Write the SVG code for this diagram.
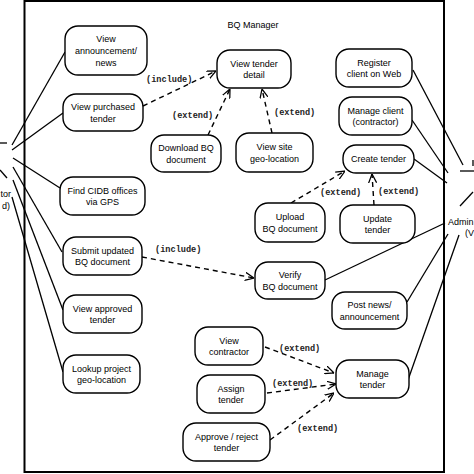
<svg xmlns="http://www.w3.org/2000/svg" width="474" height="474" viewBox="0 0 474 474">
<defs>
<style>
.uc rect{fill:#fff;stroke:#000;stroke-width:1.4}
.uc text,.t{font-family:"Liberation Sans",Arial,sans-serif;font-size:9px;fill:#000;text-anchor:middle}
.s{stroke:#000;stroke-width:1.3;fill:none}
.d{stroke:#000;stroke-width:1.4;fill:none;stroke-dasharray:5 4;marker-end:url(#arr)}
.lb{font-family:"Liberation Mono","Courier New",monospace;font-size:8.6px;font-weight:bold;fill:#222}
.a{font-family:"Liberation Sans",Arial,sans-serif;font-size:9px;fill:#000}
</style>
<marker id="arr" viewBox="0 0 10 10" refX="10" refY="5" markerWidth="9" markerHeight="9" markerUnits="userSpaceOnUse" orient="auto">
<path d="M0,0.5 L10,5 L0,9.5" fill="none" stroke="#000" stroke-width="1.4"/>
</marker>
</defs>
<rect width="474" height="474" fill="#fff"/>
<g id="system">
<rect x="24.5" y="1" width="419.5" height="471" fill="none" stroke="#000" stroke-width="2"/>
<text class="t" x="253" y="28">BQ Manager</text>
</g>
<g id="actor-left">
<line class="s" x1="0" y1="143" x2="7" y2="143"/>
<line class="s" x1="0" y1="170" x2="7" y2="178"/>
<text class="a" x="11" y="197" text-anchor="end">tor</text>
<text class="a" x="10" y="209" text-anchor="end">d)</text>
</g>
<g id="actor-right">
<line class="s" x1="460" y1="171" x2="474" y2="171" stroke-width="1.6"/>
<line class="s" x1="473" y1="160" x2="473" y2="166" stroke-width="2"/>
<line class="s" x1="460" y1="206" x2="473" y2="192"/>
<text class="a" x="448" y="225">Admin</text>
<text class="a" x="465" y="236">(V</text>
</g>
<g id="connectors">
<line class="s" x1="12" y1="145" x2="65" y2="52"/>
<line class="s" x1="12" y1="150" x2="63" y2="113"/>
<line class="s" x1="13" y1="158" x2="60" y2="188"/>
<line class="s" x1="13" y1="167" x2="62" y2="252"/>
<line class="s" x1="13" y1="180" x2="63" y2="310"/>
<line class="s" x1="12" y1="197" x2="63" y2="372"/>
<line class="s" x1="413" y1="70" x2="463" y2="165"/>
<line class="s" x1="412" y1="120" x2="448" y2="173"/>
<line class="s" x1="414" y1="159" x2="447" y2="183"/>
<line class="s" x1="325" y1="280" x2="445" y2="223"/>
<line class="s" x1="407" y1="302" x2="448" y2="234"/>
<line class="s" x1="408" y1="380" x2="459" y2="235"/>
<line class="d" x1="143" y1="106" x2="216" y2="71"/>
<line class="d" x1="208" y1="135" x2="230" y2="89"/>
<line class="d" x1="272" y1="133" x2="262" y2="89"/>
<line class="d" x1="291" y1="203" x2="345" y2="171"/>
<line class="d" x1="374" y1="205" x2="372" y2="174"/>
<line class="d" x1="142" y1="257" x2="254" y2="278"/>
<line class="d" x1="265" y1="347" x2="334" y2="373"/>
<line class="d" x1="267" y1="393" x2="336" y2="384"/>
<line class="d" x1="270" y1="440" x2="334" y2="393"/>
<text class="lb" x="146" y="82">(include)</text>
<text class="lb" x="172" y="118">(extend)</text>
<text class="lb" x="274" y="115">(extend)</text>
<text class="lb" x="320" y="195">(extend)</text>
<text class="lb" x="378" y="194">(extend)</text>
<text class="lb" x="155" y="252">(include)</text>
<text class="lb" x="279" y="351">(extend)</text>
<text class="lb" x="272" y="386">(extend)</text>
<text class="lb" x="297" y="431">(extend)</text>
</g>
<g id="view-announcement" class="uc"><rect x="65" y="26" width="82" height="49" rx="13"/><text x="106" y="42">View</text><text x="106" y="54">announcement/</text><text x="106" y="65.5">news</text></g>
<g id="view-purchased" class="uc"><rect x="63" y="94" width="80" height="37" rx="13"/><text x="103" y="110">View purchased</text><text x="103" y="121.5">tender</text></g>
<g id="view-tender-detail" class="uc"><rect x="217" y="50" width="74" height="38" rx="13"/><text x="254" y="66.5">View tender</text><text x="254" y="78">detail</text></g>
<g id="download-bq" class="uc"><rect x="151" y="135" width="70" height="37" rx="13"/><text x="186" y="151">Download BQ</text><text x="186" y="162.5">document</text></g>
<g id="view-site" class="uc"><rect x="236" y="133" width="77" height="39" rx="13"/><text x="274.5" y="150">View site</text><text x="274.5" y="161.5">geo-location</text></g>
<g id="register-client" class="uc"><rect x="336" y="49" width="76" height="38" rx="13"/><text x="374" y="65.5">Register</text><text x="374" y="77">client on Web</text></g>
<g id="manage-client" class="uc"><rect x="339" y="97" width="73" height="38" rx="13"/><text x="375.5" y="113.5">Manage client</text><text x="375.5" y="125">(contractor)</text></g>
<g id="create-tender" class="uc"><rect x="343" y="145" width="71" height="28" rx="13"/><text x="378.5" y="162">Create tender</text></g>
<g id="upload-bq" class="uc"><rect x="255" y="203" width="70" height="39" rx="13"/><text x="290" y="220">Upload</text><text x="290" y="231.5">BQ document</text></g>
<g id="update-tender" class="uc"><rect x="340" y="205" width="75" height="38" rx="13"/><text x="377.5" y="221.5">Update</text><text x="377.5" y="233">tender</text></g>
<g id="verify-bq" class="uc"><rect x="255" y="262" width="70" height="37" rx="13"/><text x="290" y="278">Verify</text><text x="290" y="289.5">BQ document</text></g>
<g id="post-news" class="uc"><rect x="332" y="292" width="75" height="37" rx="13"/><text x="369.5" y="308">Post news/</text><text x="369.5" y="319.5">announcement</text></g>
<g id="manage-tender" class="uc"><rect x="336" y="360" width="73" height="38" rx="13"/><text x="372.5" y="376.5">Manage</text><text x="372.5" y="388">tender</text></g>
<g id="view-contractor" class="uc"><rect x="195" y="327" width="68" height="38" rx="13"/><text x="229" y="343.5">View</text><text x="229" y="355">contractor</text></g>
<g id="assign-tender" class="uc"><rect x="197" y="375" width="68" height="38" rx="13"/><text x="231" y="391.5">Assign</text><text x="231" y="403">tender</text></g>
<g id="approve-reject" class="uc"><rect x="183" y="423" width="87" height="38" rx="13"/><text x="226.5" y="439.5">Approve / reject</text><text x="226.5" y="451">tender</text></g>
<g id="find-cidb" class="uc"><rect x="60" y="177" width="85" height="38" rx="13"/><text x="102.5" y="193.5">Find CIDB offices</text><text x="102.5" y="205">via GPS</text></g>
<g id="submit-updated" class="uc"><rect x="63" y="237" width="79" height="38" rx="13"/><text x="102.5" y="253.5">Submit updated</text><text x="102.5" y="265">BQ document</text></g>
<g id="view-approved" class="uc"><rect x="63" y="295" width="79" height="38" rx="13"/><text x="102.5" y="311.5">View approved</text><text x="102.5" y="323">tender</text></g>
<g id="lookup-project" class="uc"><rect x="63" y="355" width="77" height="38" rx="13"/><text x="101.5" y="371.5">Lookup project</text><text x="101.5" y="383">geo-location</text></g>
</svg>
